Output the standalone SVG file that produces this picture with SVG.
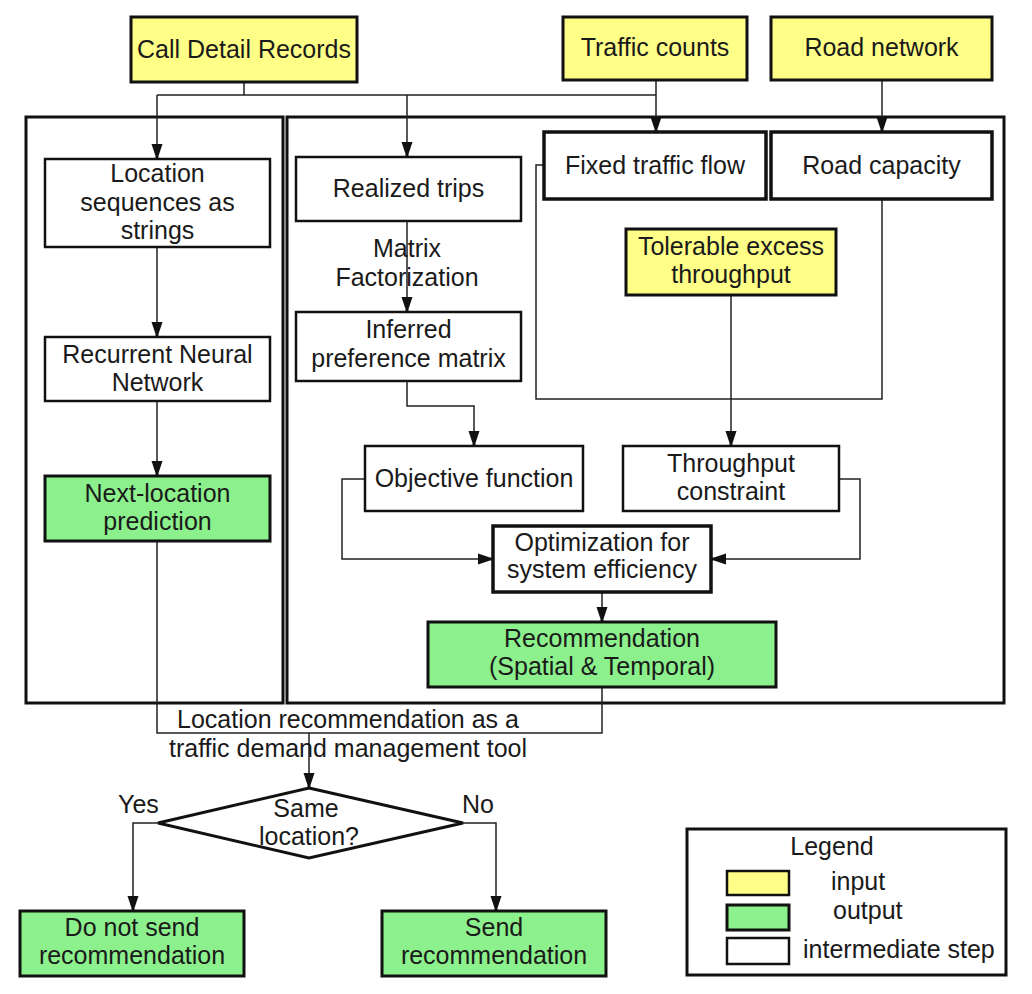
<svg xmlns="http://www.w3.org/2000/svg" width="1032" height="994" viewBox="0 0 1032 994">
<style>
text{font-family:"Liberation Sans",Arial,sans-serif;font-size:25px;fill:#1a1a1a;text-anchor:middle}
.in{fill:#FFFF88;stroke:#111;stroke-width:3}
.out{fill:#8CF08C;stroke:#111;stroke-width:3}
.mid{fill:#fff;stroke:#111;stroke-width:2.5}
.thick{fill:#fff;stroke:#111;stroke-width:3.5}
.panel{fill:none;stroke:#111;stroke-width:3}
.c{fill:none;stroke:#222;stroke-width:1.5}
.a{marker-end:url(#arr)}
.st{text-anchor:start}
</style>
<defs>
<marker id="arr" markerUnits="userSpaceOnUse" markerWidth="15" markerHeight="12" viewBox="0 0 15 12" refX="15" refY="6" orient="auto">
<path d="M0,0.5 L12,4.5 L15,4.5 L15,7.5 L12,7.5 L0,11.5 z" fill="#111"/>
</marker>
</defs>
<g id="panels">
<rect class="panel" x="26" y="117" width="257" height="586"/>
<rect class="panel" x="287" y="117" width="717" height="586"/>
</g>
<g id="connectors">
<path class="c" d="M244,82 V95 M157,95 H656"/>
<path class="c a" d="M157,95 V159"/>
<path class="c a" d="M407,95 V157"/>
<path class="c a" d="M656,80 V132"/>
<path class="c a" d="M882,80 V132"/>
<path class="c a" d="M157,247 V337"/>
<path class="c a" d="M157,401 V476"/>
<path class="c a" d="M407,221 V312"/>
<path class="c a" d="M407,381 V406 H474 V446"/>
<path class="c" d="M544,165 H536 V399 H882 V199"/>
<path class="c a" d="M731,295 V446"/>
<path class="c a" d="M365,479 H342 V559 H493"/>
<path class="c a" d="M839,479 H860 V559 H711"/>
<path class="c a" d="M602,592 V622"/>
<path class="c" d="M157,541 V733 H602 V687"/>
<path class="c a" d="M309,733 V788"/>
<path class="c a" d="M158,823 H133 V911"/>
<path class="c a" d="M463,823 H496 V911"/>
</g>
<g id="cdr"><rect class="in" x="131" y="17" width="226" height="65"/><text x="244" y="58">Call Detail Records</text></g>
<g id="traffic-counts"><rect class="in" x="563" y="17" width="184" height="63"/><text x="655" y="56">Traffic counts</text></g>
<g id="road-network"><rect class="in" x="771" y="17" width="221" height="63"/><text x="881.5" y="56">Road network</text></g>
<g id="location-sequences"><rect class="mid" x="45" y="159" width="225" height="88"/><text x="157.5" y="182">Location</text><text x="157.5" y="210.5">sequences as</text><text x="157.5" y="239">strings</text></g>
<g id="rnn"><rect class="mid" x="45" y="337" width="225" height="64"/><text x="157.5" y="363">Recurrent Neural</text><text x="157.5" y="391">Network</text></g>
<g id="next-location"><rect class="out" x="45" y="476" width="225" height="65"/><text x="157.5" y="502">Next-location</text><text x="157.5" y="530">prediction</text></g>
<g id="realized-trips"><rect class="mid" x="296" y="157" width="225" height="64"/><text x="408.5" y="197">Realized trips</text></g>
<g id="mf-label"><text x="407" y="257">Matrix</text><text x="407" y="286">Factorization</text></g>
<g id="inferred"><rect class="mid" x="296" y="312" width="225" height="69"/><text x="408.5" y="338">Inferred</text><text x="408.5" y="367">preference matrix</text></g>
<g id="fixed-flow"><rect class="thick" x="544" y="132" width="222" height="67"/><text x="655" y="174">Fixed traffic flow</text></g>
<g id="road-capacity"><rect class="thick" x="771" y="132" width="221" height="67"/><text x="881.5" y="174">Road capacity</text></g>
<g id="tolerable"><rect class="in" x="626" y="229" width="210" height="66"/><text x="731" y="255">Tolerable excess</text><text x="731" y="283">throughput</text></g>
<g id="objective"><rect class="mid" x="365" y="446" width="218" height="65"/><text x="474" y="487">Objective function</text></g>
<g id="throughput"><rect class="mid" x="623" y="446" width="216" height="65"/><text x="731" y="472">Throughput</text><text x="731" y="500">constraint</text></g>
<g id="optimization"><rect class="thick" x="493" y="526" width="218" height="66"/><text x="602" y="551">Optimization for</text><text x="602" y="578">system efficiency</text></g>
<g id="recommendation"><rect class="out" x="428" y="622" width="348" height="65"/><text x="602" y="647">Recommendation</text><text x="602" y="675">(Spatial &amp; Temporal)</text></g>
<g id="tdm-label"><text x="348" y="728">Location recommendation as a</text><text x="348" y="757">traffic demand management tool</text></g>
<g id="decision"><polygon points="309,788 463,823 309,858 158,823" fill="#fff" stroke="#111" stroke-width="3"/><text x="306" y="817">Same</text><text x="309" y="845">location?</text></g>
<g id="branch-labels"><text class="st" x="118" y="813">Yes</text><text class="st" x="462" y="813">No</text></g>
<g id="do-not-send"><rect class="out" x="20" y="911" width="224" height="65"/><text x="132" y="936">Do not send</text><text x="132" y="964">recommendation</text></g>
<g id="send"><rect class="out" x="382" y="911" width="224" height="65"/><text x="494" y="936">Send</text><text x="494" y="964">recommendation</text></g>
<g id="legend">
<rect x="687" y="829" width="319" height="146" fill="#fff" stroke="#111" stroke-width="3"/>
<text x="832" y="855">Legend</text>
<rect x="727" y="871" width="62" height="24" fill="#FFFF88" stroke="#111" stroke-width="2.5"/>
<rect x="727" y="905" width="62" height="25" fill="#8CF08C" stroke="#111" stroke-width="3"/>
<rect x="727" y="938" width="62" height="26" fill="#fff" stroke="#111" stroke-width="2.5"/>
<text class="st" x="831" y="890">input</text>
<text class="st" x="833" y="919">output</text>
<text class="st" x="803" y="958">intermediate step</text>
</g>
</svg>
